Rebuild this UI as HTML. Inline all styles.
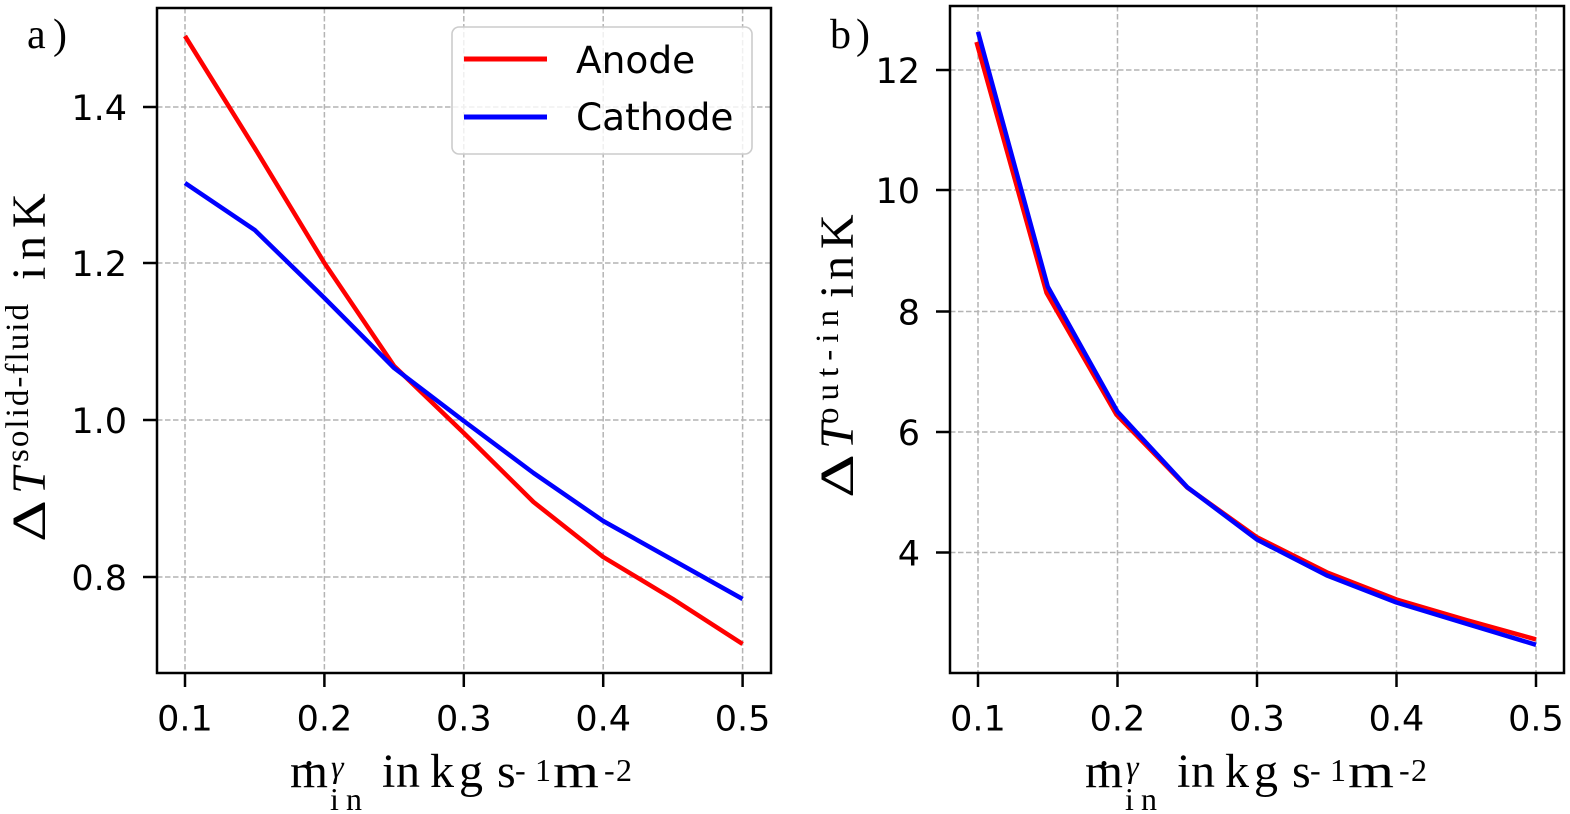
<!DOCTYPE html>
<html>
<head>
<meta charset="utf-8">
<style>
  html, body { margin: 0; padding: 0; background: #ffffff; }
  svg { display: block; }
  .tick { font-family: "DejaVu Sans", "Liberation Sans", sans-serif; font-size: 35px; fill: #000; }
  .leg { font-family: "DejaVu Sans", "Liberation Sans", sans-serif; font-size: 37.5px; fill: #000; }
  .ser { font-family: "Liberation Serif", "Times New Roman", serif; fill: #000; }
</style>
</head>
<body>
<svg width="1570" height="814" viewBox="0 0 1570 814" xmlns="http://www.w3.org/2000/svg">
  <rect x="0" y="0" width="1570" height="814" fill="#ffffff"/>

  <!-- ================= PANEL A ================= -->
  <g stroke="#b4b4b4" stroke-width="1.5" stroke-dasharray="5.5 2.5" fill="none">
    <line x1="185" y1="8" x2="185" y2="673"/>
    <line x1="324.4" y1="8" x2="324.4" y2="673"/>
    <line x1="463.8" y1="8" x2="463.8" y2="673"/>
    <line x1="603.2" y1="8" x2="603.2" y2="673"/>
    <line x1="742.6" y1="8" x2="742.6" y2="673"/>
    <line x1="157" y1="107" x2="771" y2="107"/>
    <line x1="157" y1="263" x2="771" y2="263"/>
    <line x1="157" y1="420" x2="771" y2="420"/>
    <line x1="157" y1="577" x2="771" y2="577"/>
  </g>

  <polyline fill="none" stroke="#ff0000" stroke-width="4.5" stroke-linejoin="round"
    points="185,36 254.7,148 324.4,263 394.1,366 463.8,433 533.5,502 603.2,557 672.9,599 742.6,644"/>
  <polyline fill="none" stroke="#0000ff" stroke-width="4.5" stroke-linejoin="round"
    points="185,183 254.7,230 324.4,298 394.1,368 463.8,421 533.5,473 603.2,521 672.9,560 742.6,599"/>

  <rect x="157" y="8" width="614" height="665" fill="none" stroke="#000" stroke-width="2.5"/>
  <g stroke="#000" stroke-width="2.5">
    <line x1="185" y1="673" x2="185" y2="687"/>
    <line x1="324.4" y1="673" x2="324.4" y2="687"/>
    <line x1="463.8" y1="673" x2="463.8" y2="687"/>
    <line x1="603.2" y1="673" x2="603.2" y2="687"/>
    <line x1="742.6" y1="673" x2="742.6" y2="687"/>
    <line x1="143" y1="107" x2="157" y2="107"/>
    <line x1="143" y1="263" x2="157" y2="263"/>
    <line x1="143" y1="420" x2="157" y2="420"/>
    <line x1="143" y1="577" x2="157" y2="577"/>
  </g>
  <g class="tick" text-anchor="middle">
    <text x="185" y="730.5">0.1</text>
    <text x="324.4" y="730.5">0.2</text>
    <text x="463.8" y="730.5">0.3</text>
    <text x="603.2" y="730.5">0.4</text>
    <text x="742.6" y="730.5">0.5</text>
  </g>
  <g class="tick" text-anchor="end">
    <text x="127" y="120">1.4</text>
    <text x="127" y="276">1.2</text>
    <text x="127" y="433">1.0</text>
    <text x="127" y="590">0.8</text>
  </g>

  <rect x="452" y="27" width="300" height="127" rx="7" ry="7" fill="#ffffff" fill-opacity="0.8" stroke="#cccccc" stroke-width="1.6"/>
  <line x1="464" y1="59" x2="547" y2="59" stroke="#ff0000" stroke-width="5"/>
  <line x1="464" y1="117" x2="547" y2="117" stroke="#0000ff" stroke-width="5"/>
  <text class="leg" x="576" y="73">Anode</text>
  <text class="leg" x="576" y="130">Cathode</text>

  <text class="ser" x="27" y="48" font-size="42" textLength="40" lengthAdjust="spacing">a)</text>

  <g transform="translate(45,542) rotate(-90)" class="ser">
    <text x="0" y="0" font-size="48" textLength="42" lengthAdjust="spacingAndGlyphs">Δ</text>
    <text x="48" y="0" font-size="48" font-style="italic">T</text>
    <text x="80" y="-17" font-size="33" textLength="158" lengthAdjust="spacing">solid-fluid</text>
    <text x="262" y="0" font-size="48" textLength="44" lengthAdjust="spacing">in</text>
    <text x="314" y="0" font-size="48">K</text>
  </g>

  <g class="ser">
    <text x="290" y="787" font-size="48" textLength="38" lengthAdjust="spacingAndGlyphs">m</text>
    <circle cx="309" cy="763.5" r="2.5" fill="#000"/>
    <text x="331" y="777" font-size="32" font-style="italic">γ</text>
    <text x="330" y="810" font-size="32" textLength="32" lengthAdjust="spacing">in</text>
    <text x="382" y="787" font-size="48" textLength="38" lengthAdjust="spacing">in</text>
    <text x="430" y="787" font-size="48" textLength="53" lengthAdjust="spacing">kg</text>
    <text x="497" y="787" font-size="48">s</text>
    <text x="515" y="781" font-size="32" textLength="36" lengthAdjust="spacing">-1</text>
    <text x="553" y="787" font-size="48" textLength="46" lengthAdjust="spacingAndGlyphs">m</text>
    <text x="604" y="781" font-size="32" textLength="28" lengthAdjust="spacing">-2</text>
  </g>

  <!-- ================= PANEL B ================= -->
  <g stroke="#b4b4b4" stroke-width="1.5" stroke-dasharray="5.5 2.5" fill="none">
    <line x1="978" y1="6" x2="978" y2="673"/>
    <line x1="1117.5" y1="6" x2="1117.5" y2="673"/>
    <line x1="1257" y1="6" x2="1257" y2="673"/>
    <line x1="1396.5" y1="6" x2="1396.5" y2="673"/>
    <line x1="1536" y1="6" x2="1536" y2="673"/>
    <line x1="950" y1="70" x2="1564" y2="70"/>
    <line x1="950" y1="190" x2="1564" y2="190"/>
    <line x1="950" y1="311.5" x2="1564" y2="311.5"/>
    <line x1="950" y1="432" x2="1564" y2="432"/>
    <line x1="950" y1="552.5" x2="1564" y2="552.5"/>
  </g>

  <polyline fill="none" stroke="#ff0000" stroke-width="4.5" stroke-linejoin="round"
    points="976.5,42 1046.5,292.7 1116.5,414.7 1187.25,487.5 1257,537.3 1326.75,572.3 1396.5,599.5 1466.25,620 1536,639.4"/>
  <polyline fill="none" stroke="#0000ff" stroke-width="4.5" stroke-linejoin="round"
    points="978,31.8 1047.75,286.6 1117.5,411.7 1187.25,487.2 1257,539.6 1326.75,575.4 1396.5,602.5 1466.25,623.7 1536,644.8"/>

  <rect x="950" y="6" width="614" height="667" fill="none" stroke="#000" stroke-width="2.5"/>
  <g stroke="#000" stroke-width="2.5">
    <line x1="978" y1="673" x2="978" y2="687"/>
    <line x1="1117.5" y1="673" x2="1117.5" y2="687"/>
    <line x1="1257" y1="673" x2="1257" y2="687"/>
    <line x1="1396.5" y1="673" x2="1396.5" y2="687"/>
    <line x1="1536" y1="673" x2="1536" y2="687"/>
    <line x1="936" y1="70" x2="950" y2="70"/>
    <line x1="936" y1="190" x2="950" y2="190"/>
    <line x1="936" y1="311.5" x2="950" y2="311.5"/>
    <line x1="936" y1="432" x2="950" y2="432"/>
    <line x1="936" y1="552.5" x2="950" y2="552.5"/>
  </g>
  <g class="tick" text-anchor="middle">
    <text x="978" y="730.5">0.1</text>
    <text x="1117.5" y="730.5">0.2</text>
    <text x="1257" y="730.5">0.3</text>
    <text x="1396.5" y="730.5">0.4</text>
    <text x="1536" y="730.5">0.5</text>
  </g>
  <g class="tick" text-anchor="end">
    <text x="920" y="83">12</text>
    <text x="920" y="203">10</text>
    <text x="920" y="324.5">8</text>
    <text x="920" y="445">6</text>
    <text x="920" y="565.5">4</text>
  </g>

  <text class="ser" x="830" y="48" font-size="42" textLength="40" lengthAdjust="spacing">b)</text>

  <g transform="translate(853,498) rotate(-90)" class="ser">
    <text x="0" y="0" font-size="48" textLength="44" lengthAdjust="spacingAndGlyphs">Δ</text>
    <text x="49" y="0" font-size="48" font-style="italic">T</text>
    <text x="74" y="-15" font-size="33" textLength="114" lengthAdjust="spacing">out-in</text>
    <text x="200" y="0" font-size="48" textLength="42" lengthAdjust="spacing">in</text>
    <text x="249" y="0" font-size="48">K</text>
  </g>

  <g class="ser" transform="translate(795,0)">
    <text x="290" y="787" font-size="48" textLength="38" lengthAdjust="spacingAndGlyphs">m</text>
    <circle cx="309" cy="763.5" r="2.5" fill="#000"/>
    <text x="331" y="777" font-size="32" font-style="italic">γ</text>
    <text x="330" y="810" font-size="32" textLength="32" lengthAdjust="spacing">in</text>
    <text x="382" y="787" font-size="48" textLength="38" lengthAdjust="spacing">in</text>
    <text x="430" y="787" font-size="48" textLength="53" lengthAdjust="spacing">kg</text>
    <text x="497" y="787" font-size="48">s</text>
    <text x="515" y="781" font-size="32" textLength="36" lengthAdjust="spacing">-1</text>
    <text x="553" y="787" font-size="48" textLength="46" lengthAdjust="spacingAndGlyphs">m</text>
    <text x="604" y="781" font-size="32" textLength="28" lengthAdjust="spacing">-2</text>
  </g>
</svg>
</body>
</html>
